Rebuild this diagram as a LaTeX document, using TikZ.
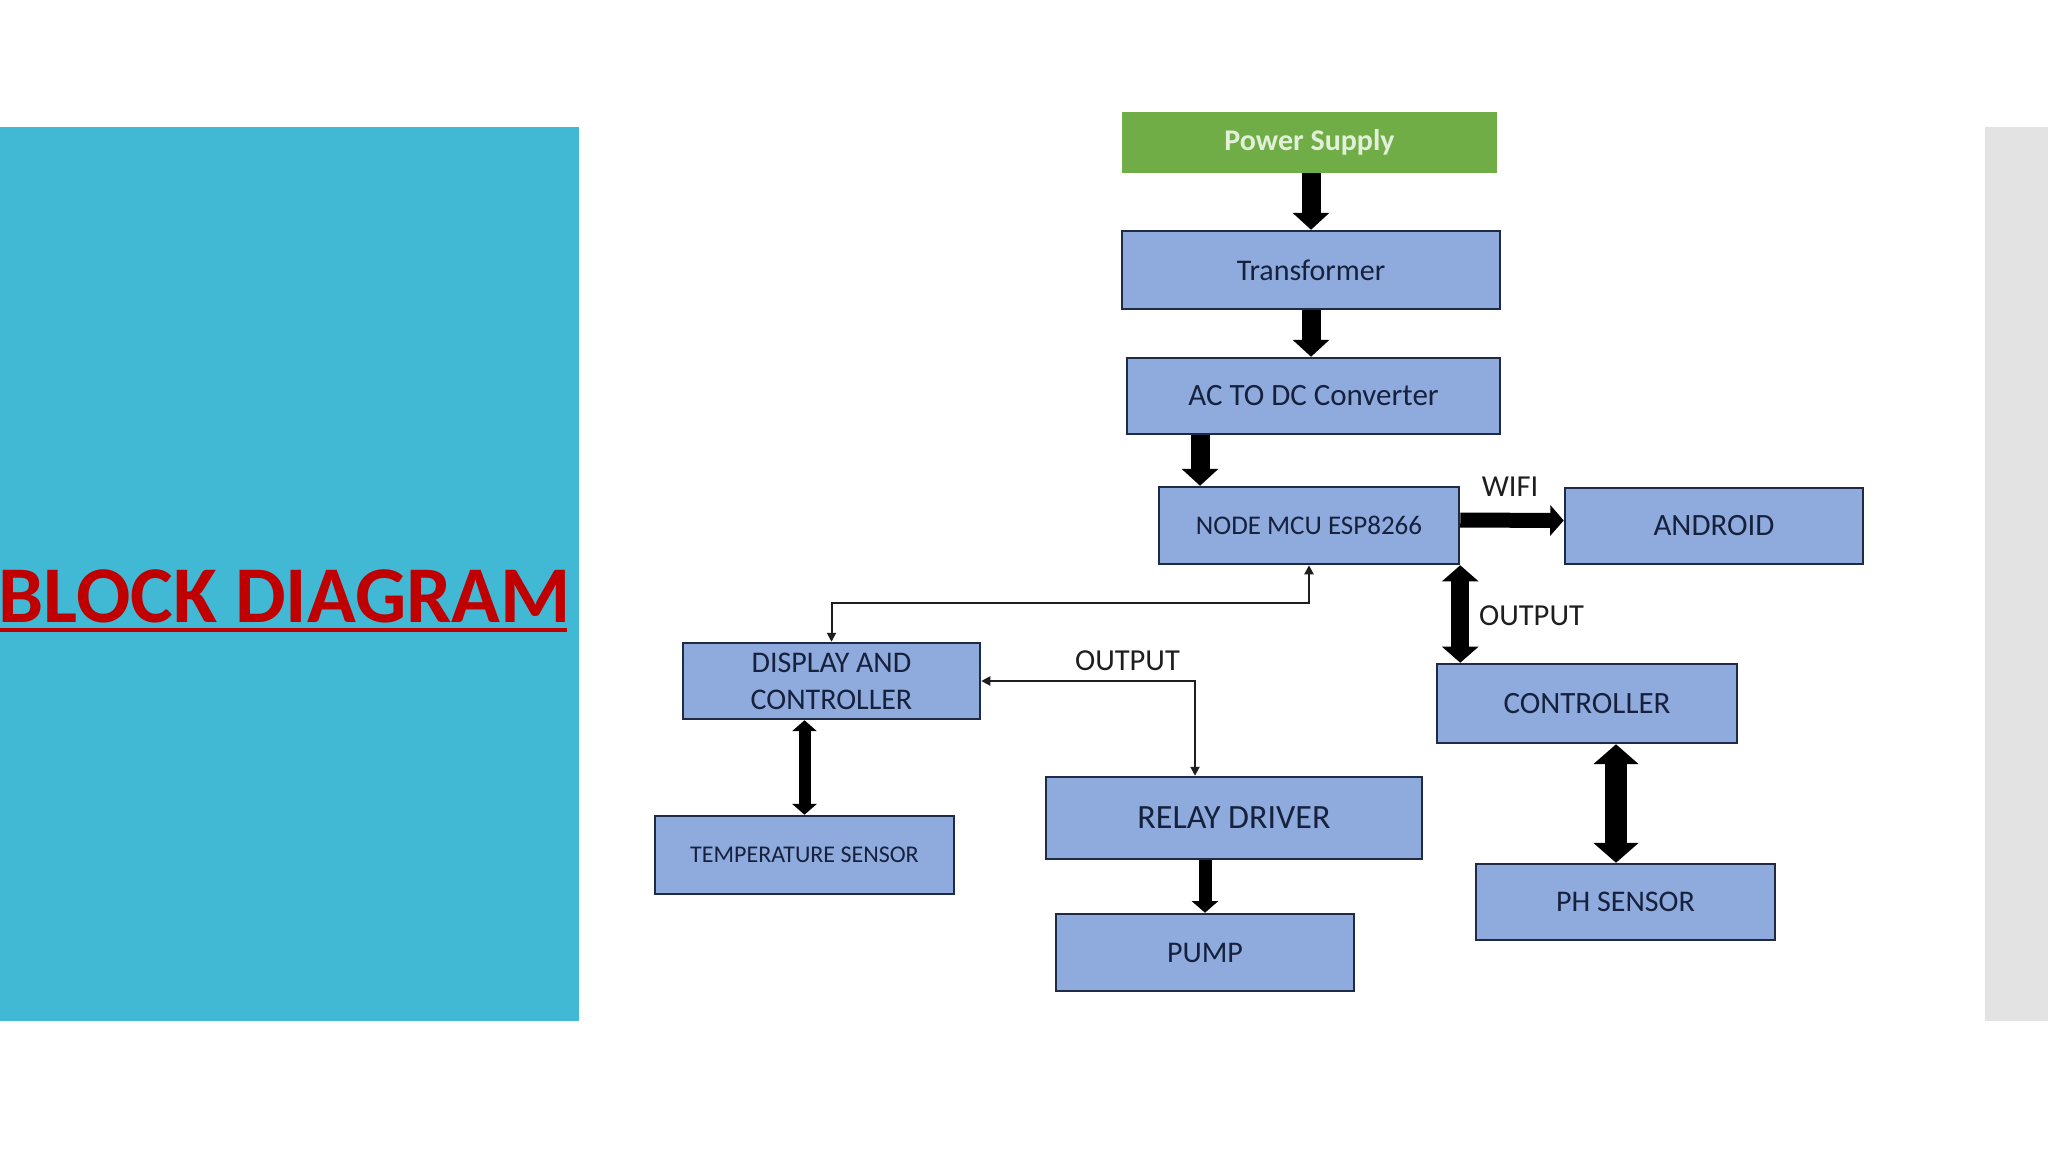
\documentclass[tikz,border=0pt]{standalone}
\usepackage{fontspec}
\setmainfont{Carlito}
\usetikzlibrary{arrows.meta}
\definecolor{panelc}{HTML}{41B9D5}
\definecolor{barc}{HTML}{E3E3E3}
\definecolor{boxc}{HTML}{8FAADC}
\definecolor{bordc}{HTML}{1F2A44}
\definecolor{txtc}{HTML}{16213D}
\definecolor{greenc}{HTML}{70AD47}
\definecolor{greentxt}{HTML}{E2F0D9}
\definecolor{titlec}{HTML}{C00000}
\definecolor{labc}{HTML}{1E1E1E}
\tikzset{
  blk/.style={draw=bordc, fill=boxc, line width=2.5pt, inner sep=0pt, text=txtc,
    font=\fontsize{31}{37}\selectfont, align=center},
  big/.style={line width=19pt, -{Triangle[width=36pt,length=17pt]}},
  bigboth/.style={line width=#1, {Triangle[width=2*#1,length=0.9*#1]}-{Triangle[width=2*#1,length=0.9*#1]}},
  bigone/.style={line width=#1, -{Triangle[width=2*#1,length=0.9*#1]}},
  thinarr/.style={draw=labc, line width=2pt, {Triangle[width=9pt,length=9pt]}-{Triangle[width=9pt,length=9pt]}},
  lab/.style={text=labc, font=\fontsize{30.5}{36}\selectfont, inner sep=0pt, anchor=base},
}
\begin{document}
\begin{tikzpicture}[x=1pt,y=-1pt]
\useasboundingbox (0,0) rectangle (2048,1152);
\fill[white] (0,0) rectangle (2048,1152);
\fill[panelc] (0,127) rectangle (579,1021);
\fill[barc] (1985,127) rectangle (2048,1021);
% title
\node[anchor=base west, inner sep=0pt, text=titlec, font=\fontsize{80.5}{92}\selectfont\bfseries] (title) at (-2,622) {BLOCK DIAGRAM};
\draw[titlec, line width=4pt] (0,630) coordinate (ul1) -- (567,630) coordinate (ul2);
% boxes
\node[fill=greenc, inner sep=0pt, minimum width=375pt, minimum height=61pt, text=greentxt, font=\fontsize{30}{36}\selectfont\bfseries] (pw) at (1309.5,142.5) {Power Supply};
\node[blk, minimum width=378pt, minimum height=78pt, font=\fontsize{30}{36}\selectfont] (tr) at (1311,270) {Transformer};
\node[blk, minimum width=373pt, minimum height=76pt] (ac) at (1313.5,396) {AC TO DC Converter};
\node[blk, minimum width=300pt, minimum height=77pt, font=\fontsize{27}{33}\selectfont] (nm) at (1309,525.5) {NODE MCU ESP8266};
\node[blk, minimum width=298pt, minimum height=76pt] (an) at (1714,526) {ANDROID};
\node[blk, minimum width=300pt, minimum height=79pt] (ct) at (1587,703.5) {CONTROLLER};
\node[blk, minimum width=297pt, minimum height=76pt, font=\fontsize{30}{37}\selectfont] (di) at (831.5,681) {DISPLAY AND\\CONTROLLER};
\node[blk, minimum width=376pt, minimum height=82pt, font=\fontsize{34}{40}\selectfont] (re) at (1234,818) {RELAY DRIVER};
\node[blk, minimum width=299pt, minimum height=78pt, font=\fontsize{24}{30}\selectfont] (te) at (804.5,855) {TEMPERATURE SENSOR};
\node[blk, minimum width=298pt, minimum height=77pt, font=\fontsize{30}{36}\selectfont] (pu) at (1205,952.5) {PUMP};
\node[blk, minimum width=299pt, minimum height=76pt, font=\fontsize{30}{36}\selectfont] (ph) at (1625.5,902) {PH SENSOR};
% thick arrows
\draw[big] (pw.south -| tr.north) -- (tr.north);
\draw[big] (tr.south) -- (tr.south |- ac.north);
\draw[big] ([xshift=-109pt]nm.north |- ac.south) -- ([xshift=-109pt]nm.north);
\draw[bigone=15pt] ([yshift=5.5pt]nm.east) -- ([yshift=5.5pt]an.west);
\draw[bigboth=18pt] (nm.south east) -- (nm.south east |- ct.north);
\draw[bigboth=12pt] (te.north) -- (te.north |- di.south);
\draw[bigone=13pt] (re.south -| pu.north) -- (pu.north);
\draw[bigboth=22pt] ([xshift=-9.5pt]ph.north |- ct.south) -- ([xshift=-9.5pt]ph.north);
% thin connectors
\draw[thinarr] (nm.south) -- ++(0,38) -| (di.north);
\draw[thinarr] (di.east) -| ([xshift=-39pt]re.north);
% labels
\node[lab] (wifi) at (1510,496) {WIFI};
\node[lab] (out1) at (1531.5,625) {OUTPUT};
\node[lab] (out2) at (1127.5,670) {OUTPUT};
\end{tikzpicture}
\end{document}
